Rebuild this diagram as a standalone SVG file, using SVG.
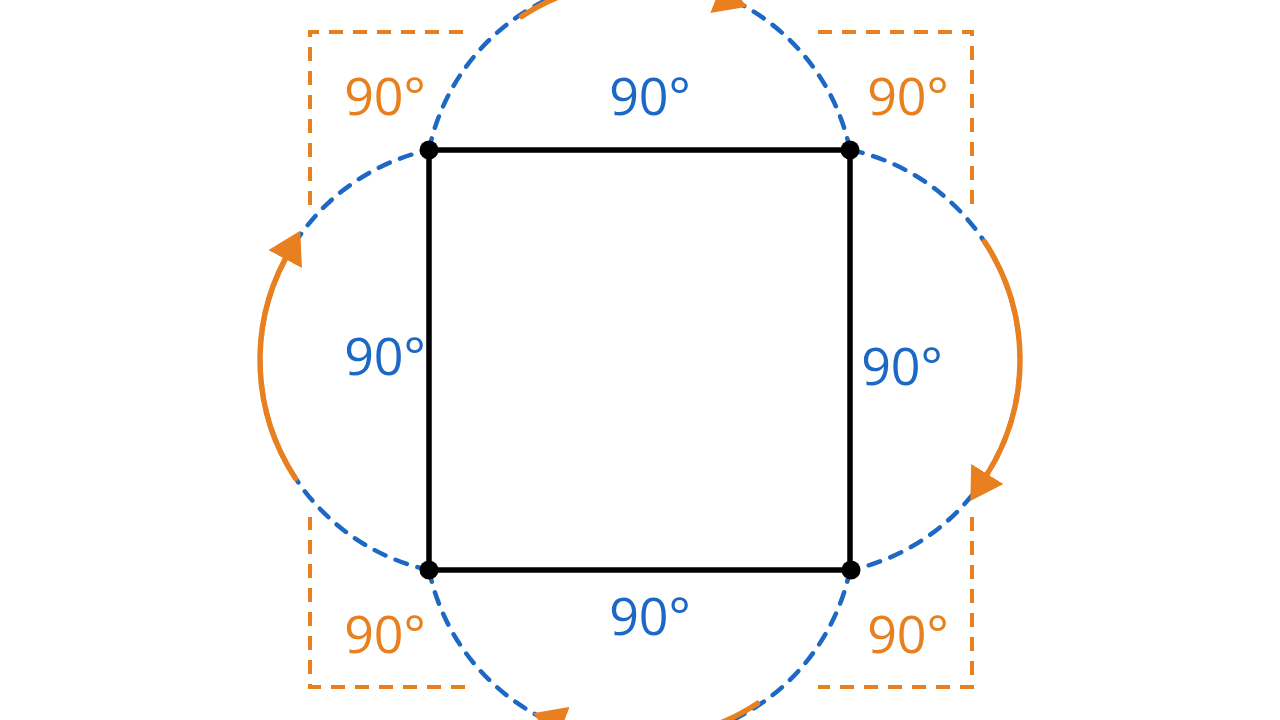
<svg xmlns="http://www.w3.org/2000/svg" width="1280" height="720" viewBox="0 0 1280 720">
<style>
.bg{fill:#ffffff}
.blue{fill:none;stroke:#1c68c4;stroke-width:4.5;stroke-dasharray:12 11;stroke-linecap:round}
.obox{fill:none;stroke:#e8801f;stroke-width:4;stroke-dasharray:14 10}
.oarc{fill:none;stroke:#e8801f;stroke-width:5.5;stroke-linecap:round}
.sq{fill:none;stroke:#000;stroke-width:5.5}
.dot{fill:#000}
.tb{font-family:"Open Sans","Liberation Sans",sans-serif;font-size:52px;fill:#1c68c4;text-anchor:middle}
.to{font-family:"Open Sans","Liberation Sans",sans-serif;font-size:52px;fill:#e8801f;text-anchor:middle}
</style>
<defs>
<marker id="ah" markerUnits="userSpaceOnUse" markerWidth="32" markerHeight="38" refX="0" refY="19" orient="auto" viewBox="0 0 32 38">
<path d="M0,0 L32,19 L0,38 z" fill="#e8801f"/>
</marker>
</defs>
<rect class="bg" x="0" y="0" width="1280" height="720"/>
<g id="corner-boxes">
<path class="obox" d="M310,205 V32 H467"/>
<path class="obox" d="M818,32 H972 V205"/>
<path class="obox" d="M972,517 V687 H818"/>
<path class="obox" d="M465,687 H310 V517"/>
</g>
<g id="connectors">
<path class="blue" d="M429,570 A215,215 0 0,1 429,150"/>
<path class="blue" d="M429,150 A215,215 0 0,1 850,150"/>
<path class="blue" d="M851,150 A215,215 0 0,1 851,570"/>
<path class="blue" d="M850,570 A215,215 0 0,1 429,570"/>
<path class="oarc" d="M295.5,478.4 A215,215 0 0,1 285.2,259.1" marker-end="url(#ah)"/>
<path class="oarc" d="M521.6,16.5 A215,215 0 0,1 717.1,-4.7" marker-end="url(#ah)"/>
<path class="oarc" d="M984.5,241.6 A215,215 0 0,1 987.3,473.9" marker-end="url(#ah)"/>
<path class="oarc" d="M757.4,703.5 A215,215 0 0,1 562.9,724.7" marker-end="url(#ah)"/>
</g>
<g id="square">
<rect class="sq" x="429" y="150" width="421" height="420"/>
<circle class="dot" cx="429" cy="150" r="9.5"/>
<circle class="dot" cx="850" cy="150" r="9.5"/>
<circle class="dot" cx="429" cy="570" r="9.5"/>
<circle class="dot" cx="851" cy="570" r="9.5"/>
</g>
<g id="labels">
<text class="tb" x="650" y="115">90°</text>
<text class="tb" x="385" y="375">90°</text>
<text class="tb" x="902" y="385">90°</text>
<text class="tb" x="650" y="635">90°</text>
<text class="to" x="385" y="115">90°</text>
<text class="to" x="908" y="115">90°</text>
<text class="to" x="385" y="653">90°</text>
<text class="to" x="908" y="653">90°</text>
</g>
</svg>
